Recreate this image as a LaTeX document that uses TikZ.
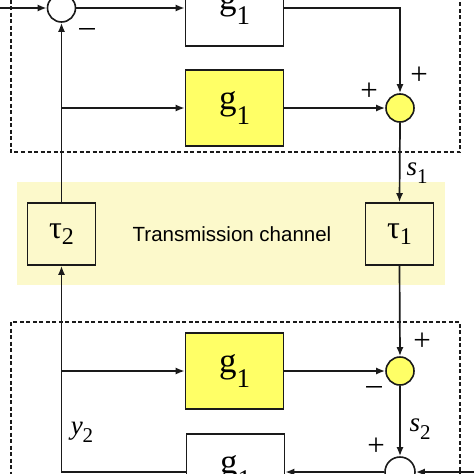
\documentclass[tikz,border=0pt]{standalone}
\usepackage{fontspec}
\setmainfont{Liberation Serif}
\newfontfamily\arialfont{Liberation Sans}
\usetikzlibrary{arrows.meta}
\definecolor{boxyellow}{HTML}{FFFF66}
\definecolor{bandyellow}{HTML}{FCF9CB}
\definecolor{linecol}{HTML}{1A1A1A}
\newcommand{\gblock}[1]{{\fontsize{35}{35}\selectfont g\raisebox{-15pt}{\fontsize{27}{27}\selectfont #1}}}
\newcommand{\taublock}[1]{{\fontsize{32}{32}\selectfont τ\raisebox{-6pt}{\fontsize{24}{24}\selectfont #1}}}
\newcommand{\sigvar}[2]{{\fontsize{27}{27}\selectfont\itshape #1\upshape\raisebox{-8pt}{\fontsize{21}{21}\selectfont #2}}}
\begin{document}
\begin{tikzpicture}[x=1pt,y=-1pt,
  blk/.style={draw=linecol, line width=1.6pt, minimum width=98pt, minimum height=76pt, inner sep=0pt},
  ybox/.style={blk, fill=boxyellow},
  wbox/.style={blk, fill=white},
  sumw/.style={circle, draw=linecol, line width=1.6pt, minimum size=28pt, inner sep=0pt, fill=white},
  sumy/.style={sumw, fill=boxyellow},
  tbox/.style={draw=linecol, line width=1.6pt, minimum width=68pt, minimum height=62pt, inner sep=0pt, fill=bandyellow},
  conn/.style={draw=linecol, line width=1.7pt, -{Latex[length=9pt,width=7pt]}},
  dashbox/.style={draw=linecol, dash pattern=on 4pt off 2.5pt, line width=1.3pt},
  sign/.style={font=\fontsize{31}{31}\selectfont, inner sep=0pt},
  lbl/.style={inner sep=0pt}
]
\useasboundingbox (0,0) rectangle (474,474);
\clip (0,0) rectangle (474,474);
\fill[white] (0,0) rectangle (474,474);

% dashed boxes
\draw[dashbox] (11,-20) rectangle (460,152);
\draw[dashbox] (11,322) rectangle (460,500);

% transmission band
\fill[bandyellow] (17,182) rectangle (445,285);

% nodes
\node[tbox] (tau2) at (61.5,234) {\taublock{2}};
\node[tbox] (tau1) at (399.5,234) {\taublock{1}};
\node[lbl, font=\arialfont\fontsize{20.5}{20.5}\selectfont] (chan) at (232,234) {Transmission channel};

\node[sumw] (c1) at (61.5,8) {};
\node[wbox] (wg1) at (234.5,8) {\gblock{1}};
\node[ybox] (yg1) at (234.5,108) {\gblock{1}};
\node[sumy] (yc1) at (400,108) {};

\node[ybox] (yg2) at (234.5,371) {\gblock{1}};
\node[sumy] (yc2) at (400,371) {};
\node[sumw, minimum size=30pt] (wc2) at (400,472) {};
\node[wbox] (wg2) at (235.5,472) {\gblock{1}};

\coordinate (inL) at (0,8);
\coordinate (inR) at (474,472);

% connectors
\draw[conn] (inL) -- (c1.west);
\draw[conn] (c1.east) -- (wg1.west);
\draw[conn] (wg1.east) -| (yc1.north);
\draw[conn] (tau2.north) -- (c1.south);
\draw[conn] (tau2.north |- yg1.west) -- (yg1.west);
\draw[conn] (yg1.east) -- (yc1.west);
\draw[conn] (yc1.south) -- (tau1.north);
\draw[conn] (tau1.south) -- (yc2.north);
\draw[conn] (yg2.east) -- (yc2.west);
\draw[conn] (yc2.south) -- (wc2.north);
\draw[conn] (inR) -- (wc2.east);
\draw[conn] (wc2.west) -- (wg2.east);
\draw[conn] (wg2.west) -| (tau2.south);
\draw[conn] (tau2.south |- yg2.west) -- (yg2.west);

% signs and labels
\node[sign] (m1) at (87,33) {–};
\node[sign] (p1) at (369,92) {+};
\node[sign] (p2) at (419,76) {+};
\node[lbl] (s1) at (417,173) {\sigvar{s}{1}};
\node[sign] (p3) at (422,342) {+};
\node[sign] (m2) at (374,390) {–};
\node[lbl] (s2) at (420,429) {\sigvar{s}{2}};
\node[sign] (p4) at (376,447) {+};
\node[lbl] (y2) at (82,432) {\sigvar{y}{2}};
\end{tikzpicture}
\end{document}
